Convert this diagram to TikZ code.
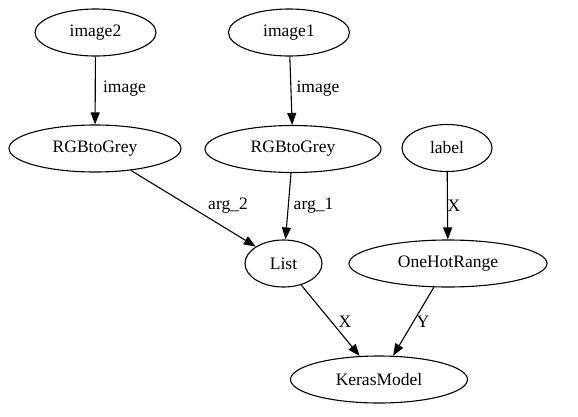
\documentclass[tikz,border=0pt]{standalone}
\usepackage{fontspec}
\setmainfont{Liberation Serif}
\usetikzlibrary{shapes.geometric,arrows.meta}
\begin{document}
\begin{tikzpicture}[x=1pt,y=-1pt,
  every node/.style={font=\fontsize{17.5}{20}\selectfont},
  gnode/.style={ellipse,draw,line width=1.1pt,inner sep=0pt,minimum height=47pt},
  edge/.style={line width=1.1pt,-{Triangle[length=12pt,width=9pt]}},
  elabel/.style={inner sep=0pt}]
\useasboundingbox (0,0) rectangle (578,416);
\node[gnode,minimum width=121pt] (image2) at (95.5,32.5) {image2};
\node[gnode,minimum width=121pt] (image1) at (289,32.5) {image1};
\node[gnode,minimum width=172pt] (rgbL) at (95,148.5) {RGBtoGrey};
\node[gnode,minimum width=176pt] (rgbR) at (293,149) {RGBtoGrey};
\node[gnode,minimum width=90pt] (label) at (447,148) {label};
\node[gnode,minimum width=77pt] (list) at (283.5,263.5) {List};
\node[gnode,minimum width=198pt] (onehot) at (448,263.5) {OneHotRange};
\node[gnode,minimum width=177pt] (keras) at (379,379.5) {KerasModel};
\draw[edge] (image2) -- (rgbL);
\draw[edge] (image1) -- (rgbR);
\draw[edge] (rgbL) -- (list);
\draw[edge] (rgbR) -- (list);
\draw[edge] (label) -- (onehot);
\draw[edge] (list) -- (keras);
\draw[edge] (onehot) -- (keras);
\node[elabel] (l1) at (124.5,89) {image};
\node[elabel] (l2) at (318,89) {image};
\node[elabel] (l3) at (228,206) {arg\_2};
\node[elabel] (l4) at (313.5,206) {arg\_1};
\node[elabel] (l5) at (454,206) {X};
\node[elabel] (l6) at (345,322) {X};
\node[elabel] (l7) at (423,322) {Y};
\end{tikzpicture}
\end{document}
